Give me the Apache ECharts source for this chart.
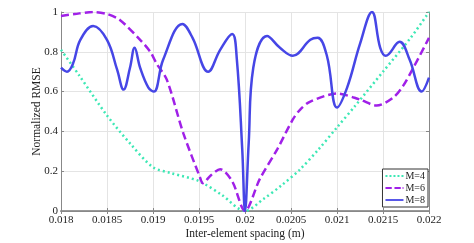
<!DOCTYPE html>
<html><head><meta charset="utf-8">
<script src="https://cdn.jsdelivr.net/npm/echarts@6/dist/echarts.min.js"></script>
<style>html,body{margin:0;padding:0;background:#fff}#c{width:474px;height:243px}</style>
</head><body><div id="c"></div>
<script>
const xTicks = [0.018,0.0185,0.019,0.0195,0.02,0.0205,0.021,0.0215,0.022];
const m4x = [0.018,0.0182,0.0185,0.01875,0.019,0.0192,0.0195,0.01975,0.02,0.0202,0.0204,0.0206,0.0208,0.021,0.0212,0.0215,0.0218,0.022];
const m4y = [0.81,0.68,0.48,0.34,0.22,0.19,0.15,0.08,0.0,0.06,0.13,0.21,0.31,0.42,0.53,0.70,0.87,1.0];
const m6x = [0.018,0.01815,0.01835,0.0185,0.01864,0.01886,0.01897,0.01904,0.01915,0.01933,0.01951,0.01954,0.01963,0.01973,0.01986,0.02,0.02016,0.02035,0.02052,0.0206,0.02071,0.021,0.02125,0.02143,0.02161,0.02172,0.02183,0.022];
const m6y = [0.98,0.99,1.0,0.99,0.96,0.86,0.80,0.74,0.66,0.39,0.17,0.14,0.18,0.21,0.15,0.0,0.16,0.31,0.46,0.51,0.55,0.59,0.56,0.53,0.57,0.63,0.72,0.87];
const m8x = [0.018,0.018065,0.01813,0.01821,0.01835,0.0185,0.01861,0.01868,0.01875,0.0188,0.01886,0.01895,0.01901,0.01911,0.01932,0.01943,0.0196,0.01973,0.01986,0.01991,0.01997,0.02,0.02004,0.02009,0.02024,0.02038,0.02052,0.02071,0.02079,0.02089,0.021,0.02111,0.02125,0.02138,0.02147,0.02153,0.02168,0.02179,0.02192,0.022];
const m8y = [0.72,0.70,0.74,0.86,0.93,0.86,0.71,0.61,0.72,0.82,0.72,0.62,0.60,0.76,0.94,0.87,0.70,0.81,0.89,0.77,0.31,0.0,0.34,0.72,0.88,0.82,0.78,0.86,0.87,0.78,0.52,0.62,0.84,1.0,0.82,0.78,0.85,0.76,0.60,0.67];

const pairs = (xs, ys) => xs.map((x, i) => [x, ys[i]]);
const font = 'Liberation Serif';
const chart = echarts.init(document.getElementById('c'));
const gridLine = {show: true, lineStyle: {color: '#e4e4e4', width: 1}};
const dotIcon = 'path://M0,0h2v2H0z M4,0h2v2H4z M8,0h2v2H8z M12,0h2v2H12z M16,0h2v2H16z';
const dashIcon = 'path://M0,0h7v2H0z M10,0h7v2H10z M19,0h1v2H19z';
const solidIcon = 'path://M0,0h20v2H0z';
chart.setOption({
  animation: false,
  grid: {left: 61, right: 45, top: 12, bottom: 32, outerBoundsMode: 'none', containLabel: false},
  xAxis: [{
    type: 'value', min: 0.018, max: 0.022, interval: 0.0005,
    name: 'Inter-element spacing (m)', nameLocation: 'middle', nameGap: 17, nameMoveOverlap: false,
    nameTextStyle: {fontFamily: font, fontSize: 11.5, color: '#222'},
    axisLine: {lineStyle: {color: '#999', width: 2}},
    axisTick: {inside: true, length: 3, lineStyle: {color: '#888'}},
    axisLabel: {fontFamily: font, fontSize: 11, color: '#222', margin: 4,
      formatter: v => String(+v.toFixed(4))},
    splitLine: gridLine
  }, {
    type: 'value', position: 'top', min: 0.018, max: 0.022, interval: 0.0005,
    axisLine: {show: true, lineStyle: {color: '#888', width: 1}},
    axisTick: {inside: true, length: 3, lineStyle: {color: '#888'}},
    axisLabel: {show: false}, splitLine: {show: false}
  }],
  yAxis: [{
    type: 'value', min: 0, max: 1, interval: 0.2,
    name: 'Normalized RMSE', nameLocation: 'middle', nameGap: 18, nameMoveOverlap: false,
    nameTextStyle: {fontFamily: font, fontSize: 11.5, color: '#222'},
    axisLine: {show: true, lineStyle: {color: '#888', width: 1}},
    axisTick: {show: true, inside: true, length: 3, lineStyle: {color: '#888'}},
    axisLabel: {fontFamily: font, fontSize: 11, color: '#222', margin: 3,
      formatter: v => String(+v.toFixed(1))},
    splitLine: gridLine
  }, {
    type: 'value', position: 'right', min: 0, max: 1, interval: 0.2,
    axisLine: {show: true, lineStyle: {color: '#888', width: 1}},
    axisTick: {show: true, inside: true, length: 3, lineStyle: {color: '#888'}},
    axisLabel: {show: false}, splitLine: {show: false}
  }],
  legend: {
    orient: 'vertical', right: 46, bottom: 36,
    backgroundColor: '#fff', borderColor: '#333', borderWidth: 1, borderRadius: 0,
    padding: [2, 3, 2, 3], itemGap: 2, itemWidth: 18, itemHeight: 2.5,
    textStyle: {fontFamily: font, fontSize: 10, color: '#222', padding: [0, 0, 0, -3]},
    data: [{name: 'M=4', icon: dotIcon}, {name: 'M=6', icon: dashIcon}, {name: 'M=8', icon: solidIcon}]
  },
  series: [
    {name: 'M=4', type: 'line', data: pairs(m4x, m4y), smooth: 0.3, showSymbol: false,
      color: '#3de8b5', lineStyle: {width: 2.5, type: [2, 3], color: '#3de8b5'}, z: 2},
    {name: 'M=6', type: 'line', data: pairs(m6x, m6y), smooth: 0.3, showSymbol: false,
      color: '#a020e8', lineStyle: {width: 2.5, type: [8, 4], color: '#a020e8'}, z: 3},
    {name: 'M=8', type: 'line', data: pairs(m8x, m8y), smooth: 0.4, showSymbol: false,
      color: '#4646e6', lineStyle: {width: 2.5, color: '#4646e6'}, z: 4}
  ]
});
</script></body></html>
